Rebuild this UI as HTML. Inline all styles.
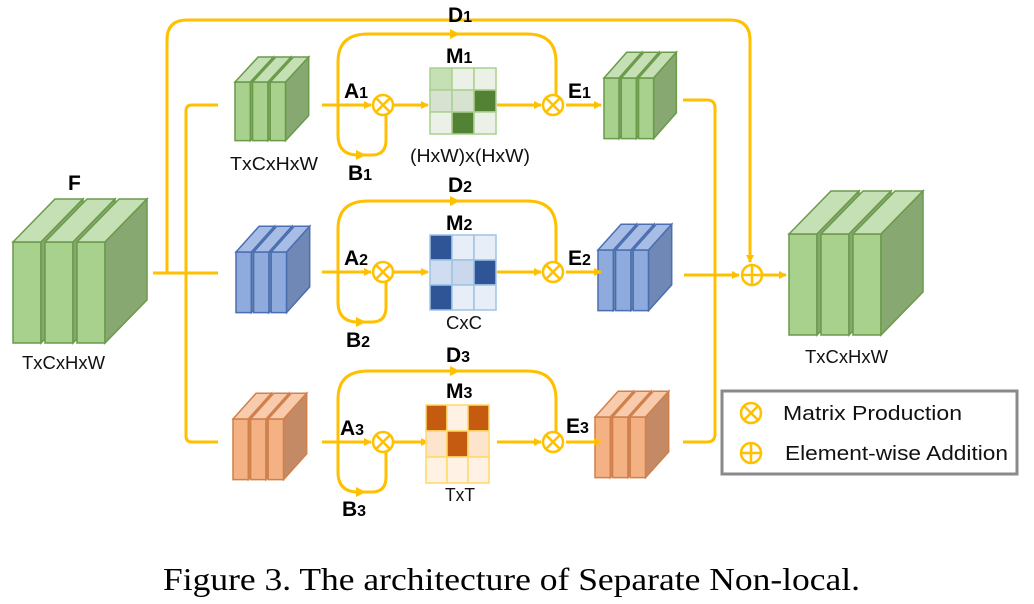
<!DOCTYPE html>
<html><head><meta charset="utf-8"><style>
html,body{margin:0;padding:0;background:#fff;}
svg{display:block;}
.l{fill:none;stroke:#ffc000;stroke-width:3;}
.t{font-family:"Liberation Sans",sans-serif;font-weight:bold;font-size:21px;fill:#000;}
.s{font-family:"Liberation Sans",sans-serif;font-size:18px;fill:#111;}
</style></head><body>
<svg width="1034" height="604" viewBox="0 0 1034 604" xmlns="http://www.w3.org/2000/svg">
<defs>
<marker id="ar" markerWidth="8" markerHeight="8" refX="7" refY="4" orient="auto" markerUnits="userSpaceOnUse"><path d="M0,0 L8,4 L0,8 z" fill="#ffc000"/></marker>
<g id="gs"><rect x="0" y="0" width="28" height="101" fill="#a9d18e" stroke="#6a9a4a" stroke-width="1.5" vector-effect="non-scaling-stroke"/><path d="M0,0 L42,-43 L70,-43 L28,0z" fill="#c5e0b4" stroke="#6a9a4a" stroke-width="1.5" vector-effect="non-scaling-stroke"/><path d="M28,0 L70,-43 L70,58 L28,101z" fill="#87a870" stroke="#6a9a4a" stroke-width="1.5" vector-effect="non-scaling-stroke"/></g>
<g id="bs"><rect x="0" y="0" width="28" height="101" fill="#8faadc" stroke="#4a6fb0" stroke-width="1.5" vector-effect="non-scaling-stroke"/><path d="M0,0 L42,-43 L70,-43 L28,0z" fill="#a8bde6" stroke="#4a6fb0" stroke-width="1.5" vector-effect="non-scaling-stroke"/><path d="M28,0 L70,-43 L70,58 L28,101z" fill="#7088b5" stroke="#4a6fb0" stroke-width="1.5" vector-effect="non-scaling-stroke"/></g>
<g id="os"><rect x="0" y="0" width="28" height="101" fill="#f4b183" stroke="#d0804a" stroke-width="1.5" vector-effect="non-scaling-stroke"/><path d="M0,0 L42,-43 L70,-43 L28,0z" fill="#f8cbad" stroke="#d0804a" stroke-width="1.5" vector-effect="non-scaling-stroke"/><path d="M28,0 L70,-43 L70,58 L28,101z" fill="#c48a66" stroke="#d0804a" stroke-width="1.5" vector-effect="non-scaling-stroke"/></g>
<g id="gst"><use href="#gs" x="0"/><use href="#gs" x="32"/><use href="#gs" x="64"/></g>
<g id="bst"><use href="#bs" x="0"/><use href="#bs" x="32"/><use href="#bs" x="64"/></g>
<g id="ost"><use href="#os" x="0"/><use href="#os" x="32"/><use href="#os" x="64"/></g>
<g id="mul"><circle r="10" fill="#fff" stroke="#ffc000" stroke-width="2.5"/><path d="M-7,-7 L7,7 M7,-7 L-7,7" stroke="#ffc000" stroke-width="2.5"/></g>
<g id="add"><circle r="10" fill="#fff" stroke="#ffc000" stroke-width="2.5"/><path d="M-10,0 H10 M0,-10 V10" stroke="#ffc000" stroke-width="2.5"/></g>
<g id="br">
<path class="l" d="M322,105 H371" marker-end="url(#ar)"/>
<path class="l" d="M338,105 V62 Q338,34 368,34 H527 Q556,34 556,62 V95"/>
<path class="l" d="M338,105 V135 Q338,155 358,155 H372 Q386,155 386,140 V115"/>
<path d="M450,29 L460,34 L450,39z" fill="#ffc000"/>
<path d="M356,150 L366,155 L356,160z" fill="#ffc000"/>
<path class="l" d="M393,105 H428" marker-end="url(#ar)"/>
<path class="l" d="M497,105 H541" marker-end="url(#ar)"/>
<path class="l" d="M566,105 H601" marker-end="url(#ar)"/>
</g>
</defs>

<use href="#gst" transform="translate(13,242)"/>
<use href="#gst" transform="translate(789,234)"/>
<use href="#gst" transform="translate(235,82) scale(0.55,0.58)"/>
<use href="#bst" transform="translate(236,252) scale(0.55,0.6)"/>
<use href="#ost" transform="translate(233,419) scale(0.55,0.6)"/>
<use href="#gst" transform="translate(604,78) scale(0.54,0.6)"/>
<use href="#bst" transform="translate(598,250) scale(0.55,0.6)"/>
<use href="#ost" transform="translate(595,417) scale(0.55,0.6)"/>

<path class="l" d="M153,273 H218"/>
<path class="l" d="M167,273 V40 Q167,20 187,20 H730 Q750,20 750,40 V262" marker-end="url(#ar)"/>
<path class="l" d="M218,105 H192 Q186,105 186,111 V436 Q186,442 192,442 H218"/>
<use href="#br"/>
<use href="#br" y="167"/>
<use href="#br" y="337"/>
<path class="l" d="M683,100 H707 Q715,100 715,108 V434 Q715,442 707,442 H683"/>
<path class="l" d="M684,275 H739" marker-end="url(#ar)"/>
<path class="l" d="M762,275 H786" marker-end="url(#ar)"/>

<use href="#mul" x="383" y="105"/><use href="#mul" x="553" y="105"/>
<use href="#mul" x="383" y="272"/><use href="#mul" x="553" y="272"/>
<use href="#mul" x="383" y="442"/><use href="#mul" x="553" y="442"/>
<use href="#add" x="752" y="275"/>

<g stroke="#a9d18e" stroke-width="1.5">
<rect x="430" y="68" width="22" height="22" fill="#c5e0b4"/><rect x="452" y="68" width="22" height="22" fill="#ebf1e6"/><rect x="474" y="68" width="22" height="22" fill="#ebf1e6"/>
<rect x="430" y="90" width="22" height="22" fill="#d7e2d0"/><rect x="452" y="90" width="22" height="22" fill="#d7e2d0"/><rect x="474" y="90" width="22" height="22" fill="#548235"/>
<rect x="430" y="112" width="22" height="22" fill="#ebf1e6"/><rect x="452" y="112" width="22" height="22" fill="#548235"/><rect x="474" y="112" width="22" height="22" fill="#ebf1e6"/>
</g>
<g stroke="#9dc3e6" stroke-width="1.5">
<rect x="430" y="235" width="22" height="25" fill="#2f5597"/><rect x="452" y="235" width="22" height="25" fill="#e8eef8"/><rect x="474" y="235" width="22" height="25" fill="#e8eef8"/>
<rect x="430" y="260" width="22" height="25" fill="#d0dcef"/><rect x="452" y="260" width="22" height="25" fill="#cad7ec"/><rect x="474" y="260" width="22" height="25" fill="#2f5597"/>
<rect x="430" y="285" width="22" height="25" fill="#2f5597"/><rect x="452" y="285" width="22" height="25" fill="#e8eef8"/><rect x="474" y="285" width="22" height="25" fill="#e8eef8"/>
</g>
<g stroke="#ffd966" stroke-width="1.5">
<rect x="426" y="405" width="21" height="26" fill="#c55a11"/><rect x="447" y="405" width="21" height="26" fill="#fff2e5"/><rect x="468" y="405" width="21" height="26" fill="#c55a11"/>
<rect x="426" y="431" width="21" height="26" fill="#fde4cc"/><rect x="447" y="431" width="21" height="26" fill="#c55a11"/><rect x="468" y="431" width="21" height="26" fill="#fde4cc"/>
<rect x="426" y="457" width="21" height="26" fill="#fff2e5"/><rect x="447" y="457" width="21" height="26" fill="#fff2e5"/><rect x="468" y="457" width="21" height="26" fill="#fff2e5"/>
</g>

<text class="t" x="68" y="190">F</text>
<text class="t" x="448" y="22">D<tspan font-size="16">1</tspan></text>
<text class="t" x="446" y="63">M<tspan font-size="16">1</tspan></text>
<text class="t" x="344" y="98">A<tspan font-size="16">1</tspan></text>
<text class="t" x="348" y="180">B<tspan font-size="16">1</tspan></text>
<text class="t" x="568" y="98">E<tspan font-size="16">1</tspan></text>
<text class="t" x="448" y="192">D<tspan font-size="16">2</tspan></text>
<text class="t" x="446" y="230">M<tspan font-size="16">2</tspan></text>
<text class="t" x="344" y="265">A<tspan font-size="16">2</tspan></text>
<text class="t" x="346" y="347">B<tspan font-size="16">2</tspan></text>
<text class="t" x="568" y="265">E<tspan font-size="16">2</tspan></text>
<text class="t" x="446" y="362">D<tspan font-size="16">3</tspan></text>
<text class="t" x="446" y="398">M<tspan font-size="16">3</tspan></text>
<text class="t" x="340" y="435">A<tspan font-size="16">3</tspan></text>
<text class="t" x="342" y="516">B<tspan font-size="16">3</tspan></text>
<text class="t" x="566" y="433">E<tspan font-size="16">3</tspan></text>

<text class="s" x="230" y="170" textLength="88" lengthAdjust="spacingAndGlyphs">TxCxHxW</text>
<text class="s" x="22" y="369" textLength="83" lengthAdjust="spacingAndGlyphs">TxCxHxW</text>
<text class="s" x="805" y="363" textLength="83" lengthAdjust="spacingAndGlyphs">TxCxHxW</text>
<text class="s" x="410" y="162" textLength="120" lengthAdjust="spacingAndGlyphs">(HxW)x(HxW)</text>
<text class="s" x="446" y="329" textLength="36" lengthAdjust="spacingAndGlyphs">CxC</text>
<text class="s" x="445" y="501" textLength="30" lengthAdjust="spacingAndGlyphs">TxT</text>

<rect x="722" y="391" width="295" height="83" fill="#fff" stroke="#8a8a8a" stroke-width="3"/>
<use href="#mul" x="751" y="413"/>
<use href="#add" x="751" y="453"/>
<text x="783" y="420" font-family="Liberation Sans, sans-serif" font-size="20" fill="#111" textLength="179" lengthAdjust="spacingAndGlyphs">Matrix Production</text>
<text x="785" y="460" font-family="Liberation Sans, sans-serif" font-size="20" fill="#111" textLength="223" lengthAdjust="spacingAndGlyphs">Element-wise Addition</text>

<text x="163" y="590" font-family="Liberation Serif, serif" font-size="32" fill="#000" textLength="697" lengthAdjust="spacingAndGlyphs">Figure 3. The architecture of Separate Non-local.</text>
</svg>
</body></html>
